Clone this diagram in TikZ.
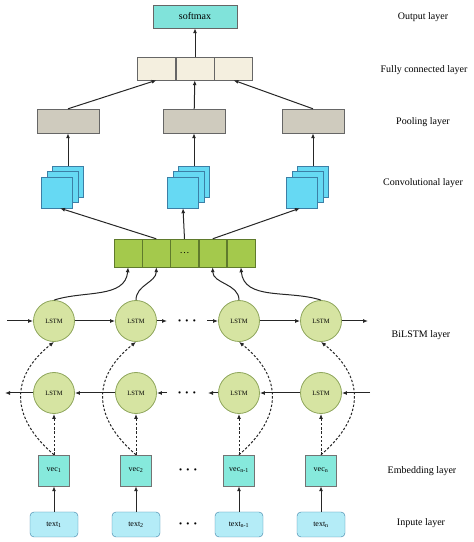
\documentclass[tikz,border=0pt]{standalone}
\usepackage{fontspec}
\setmainfont{Liberation Serif}
\usepackage{tikz}
\usetikzlibrary{arrows.meta,positioning,calc}
\definecolor{cSoft}{HTML}{80E3DA}
\definecolor{cFull}{HTML}{F4EFDF}
\definecolor{cPool}{HTML}{CFCBBE}
\definecolor{cConv}{HTML}{66D9F3}
\definecolor{cConvLine}{HTML}{3C7FA6}
\definecolor{cCat}{HTML}{A4C94C}
\definecolor{cCatLine}{HTML}{5F7A2C}
\definecolor{cLstm}{HTML}{D6E4A2}
\definecolor{cLstmLine}{HTML}{8FA65C}
\definecolor{cVec}{HTML}{86E9DC}
\definecolor{cText}{HTML}{B4ECF7}
\definecolor{cInk}{HTML}{262626}
\tikzset{
  box/.style     = {draw=black!60, align=center, inner sep=0pt, font=\fontsize{10}{12}\selectfont},
  softbox/.style = {box, fill=cSoft, minimum width=84pt, minimum height=23pt},
  fullcell/.style= {box, fill=cFull, minimum width=38pt, minimum height=23pt},
  poolbox/.style = {box, fill=cPool, minimum width=62pt, minimum height=24pt},
  convbox/.style = {box, draw=cConvLine, fill=cConv, minimum size=31pt},
  catcell/.style = {box, draw=cCatLine, fill=cCat, minimum width=27.8pt, minimum height=28pt},
  lstm/.style    = {circle, draw=cLstmLine, fill=cLstm, thick, minimum size=41pt, inner sep=0pt,
                    font=\fontsize{6.5}{8}\selectfont},
  vecbox/.style  = {box, draw=black!55, fill=cVec, minimum size=31pt, font=\fontsize{8}{10}\selectfont},
  textbox/.style = {box, draw=cConvLine, fill=cText, rounded corners=4pt,
                    minimum width=48pt, minimum height=25pt, font=\fontsize{8}{10}\selectfont},
  layer/.style   = {font=\fontsize{10}{12}\selectfont},
  dotsnode/.style= {font=\fontsize{14}{14}\selectfont\boldmath, inner sep=0pt},
  flow/.style    = {-{Latex[length=5pt,width=4pt]}, draw=cInk, line width=1pt},
  dflow/.style   = {flow, dash pattern=on 2.4pt off 1.8pt},
}

\begin{document}
\begin{tikzpicture}[x=1pt, y=1pt]
  \useasboundingbox (0,0) rectangle (474,542);
  % output and fully connected
  \node[softbox] (soft) at (195,525.5) {softmax};
  \node[fullcell] (fc2) at (195,473.5) {};
  \node[fullcell, left=0pt of fc2] (fc1) {};
  \node[fullcell, right=0pt of fc2] (fc3) {};
  % pooling
  \node[poolbox] (pool1) at (68,421) {};
  \node[poolbox] (pool2) at (194,421) {};
  \node[poolbox] (pool3) at (313,421) {};
  % convolution stacks, back to front
  \foreach \i/\x in {1/68, 2/194, 3/313} {
    \node[convbox] (conv\i a) at (\x,360.5) {};
    \node[convbox] (conv\i b) at (\x-5.5,355) {};
    \node[convbox] (conv\i c) at (\x-11,349.5) {};
  }
  % concatenated BiLSTM output
  \node[catcell] (cat3) at (184.5,289) {\raisebox{-2pt}{\dots}};
  \node[catcell, left=0pt of cat3] (cat2) {};
  \node[catcell, left=0pt of cat2] (cat1) {};
  \node[catcell, right=0pt of cat3] (cat4) {};
  \node[catcell, right=0pt of cat4] (cat5) {};
  % LSTM rows, input and embedding
  \foreach \i/\x in {1/54, 2/136, 3/239, 4/321} {
    \node[lstm] (fw\i) at (\x,221) {LSTM};
    \node[lstm] (bw\i) at (\x,149) {LSTM};
    \node[vecbox] (vec\i) at (\x,71.5) {};
    \node[textbox] (txt\i) at (\x,17.5) {};
  }
  \node[font=\fontsize{8}{10}\selectfont] at (vec1) {vec\textsubscript{1}};
  \node[font=\fontsize{8}{10}\selectfont] at (vec2) {vec\textsubscript{2}};
  \node[font=\fontsize{8}{10}\selectfont] at (vec3) {vec\textsubscript{n-1}};
  \node[font=\fontsize{8}{10}\selectfont] at (vec4) {vec\textsubscript{n}};
  \node[font=\fontsize{8}{10}\selectfont] at (txt1) {text\textsubscript{1}};
  \node[font=\fontsize{8}{10}\selectfont] at (txt2) {text\textsubscript{2}};
  \node[font=\fontsize{8}{10}\selectfont] at (txt3) {text\textsubscript{n-1}};
  \node[font=\fontsize{8}{10}\selectfont] at (txt4) {text\textsubscript{n}};
  \node[dotsnode] (dfw) at (187,221) {$\cdots$};
  \node[dotsnode] (dbw) at (187,149) {$\cdots$};
  \node[dotsnode] (dvec) at (188,71.5) {$\cdots$};
  \node[dotsnode] (dtxt) at (188,18) {$\cdots$};
  % free ends of the recurrent chains
  \coordinate (fwin) at (7,221);
  \coordinate (fwa) at (167,221);
  \coordinate (fwb) at (207,221);
  \coordinate (fwout) at (368,221);
  \coordinate (bwout) at (5,149);
  \coordinate (bwa) at (167,149);
  \coordinate (bwb) at (208,149);
  \coordinate (bwin) at (370,149);
  % layer names
  \node[layer] (lout) at (423,525) {Output layer};
  \node[layer] (lfc) at (424,472) {Fully connected layer};
  \node[layer] (lpool) at (423,420) {Pooling layer};
  \node[layer] (lconv) at (423,359) {Convolutional layer};
  \node[layer] (lbi) at (421,207) {BiLSTM layer};
  \node[layer] (lemb) at (422,71) {Embedding layer};
  \node[layer] (linp) at (421,19) {Inpute layer};
  % flows upward
  \draw[flow] (fc2) -- (soft);
  \draw[flow] (pool1.north) -- (fc1.south);
  \draw[flow] (pool2) -- (fc2);
  \draw[flow] (pool3.north) -- (fc3.south);
  \foreach \i in {1,2,3} \draw[flow] (conv\i a.north) -- (pool\i.south);
  \draw[flow] (cat2.north) -- ($(conv1c.south)+(3,0)$);
  \draw[flow] (cat3.north) -- (conv2c.south);
  \draw[flow] (cat4.north) -- ($(conv3c.south)+(-2,0)$);
  \draw[flow] (fw1.north) to[out=18, in=-95] (cat1.south);
  \draw[flow] (fw2.north) to[out=90, in=-90] (cat2.south);
  \draw[flow] (fw3.north) to[out=90, in=-90] (cat4.south);
  \draw[flow] (fw4.north) to[out=162, in=-85] (cat5.south);
  % recurrent chains
  \draw[flow] (fwin) -- (fw1);
  \draw[flow] (fw1) -- (fw2);
  \draw[flow] (fw2) -- (fwa);
  \draw[flow] (fwb) -- (fw3);
  \draw[flow] (fw3) -- (fw4);
  \draw[flow] (fw4) -- (fwout);
  \draw[flow] (bw1) -- (bwout);
  \draw[flow] (bw2) -- (bw1);
  \draw[flow] (bwa) -- (bw2);
  \draw[flow] (bw3) -- (bwb);
  \draw[flow] (bw4) -- (bw3);
  \draw[flow] (bwin) -- (bw4);
  % embedding into both directions
  \foreach \i in {1,...,4} {
    \draw[flow] (txt\i) -- (vec\i);
    \draw[dflow] (vec\i) -- (bw\i);
  }
  \draw[dflow] (vec1.north) .. controls (10,125) and (10,165) .. (fw1.south);
  \draw[dflow] (vec2.north) .. controls (92,125) and (92,165) .. (fw2.south);
  \draw[dflow] (vec3.north) .. controls (283,125) and (283,165) .. (fw3.south);
  \draw[dflow] (vec4.north) .. controls (365,125) and (365,165) .. (fw4.south);
\end{tikzpicture}
\end{document}
